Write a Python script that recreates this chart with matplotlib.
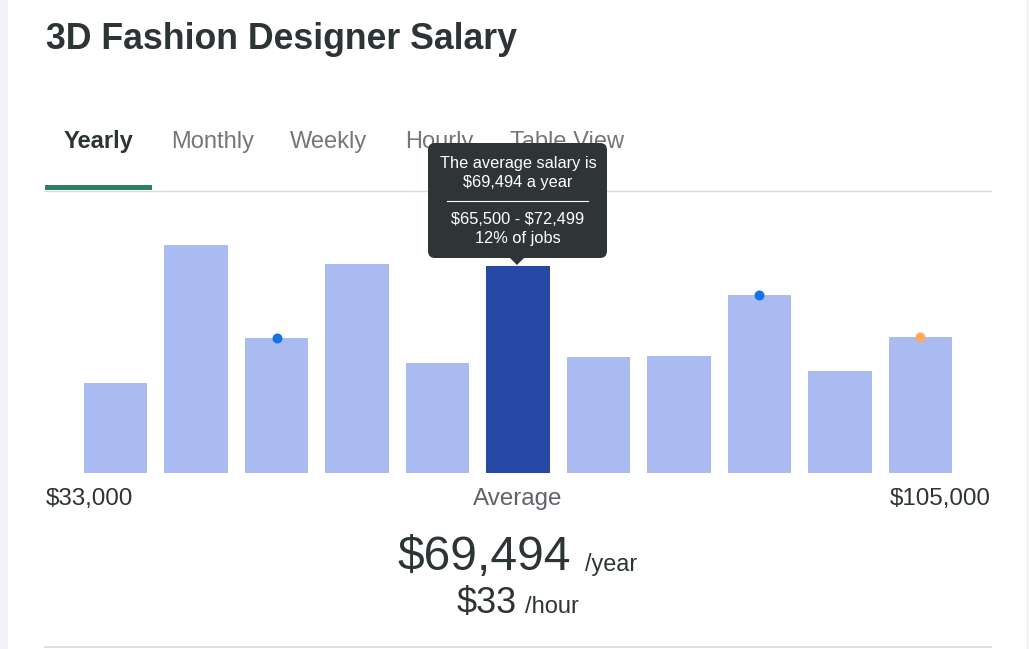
import matplotlib.pyplot as plt
from matplotlib.patches import Rectangle, FancyBboxPatch, Polygon

# Dados do gráfico (percentual de vagas por faixa salarial)
percent_jobs = [5.2, 13.2, 7.8, 12.1, 6.4, 12.0, 6.7, 6.8, 10.3, 5.9, 7.9]
destaque = 5            # faixa da média
pontos_azuis = [2, 8]
pontos_laranja = [10]
abas = ['Yearly', 'Monthly', 'Weekly', 'Hourly', 'Table View']
abas_x = [64, 171, 290, 405, 510]
faixa_min = r'\$33,000'
faixa_max = r'\$105,000'
media_anual = r'\$69,494'
media_hora = r'\$33'
tooltip_media = r'\$69,494 a year'
tooltip_faixa = r'\$65,500 - \$72,499'
tooltip_pct = '12% of jobs'

W, H = 1029, 649
plt.rcParams['font.family'] = ['Liberation Sans', 'DejaVu Sans']

fig = plt.figure(figsize=(W / 100, H / 100), dpi=100)
fig.patch.set_facecolor('white')

# camada de fundo em coordenadas de pixel
bg = fig.add_axes([0, 0, 1, 1])
bg.set_xlim(0, W)
bg.set_ylim(H, 0)
bg.axis('off')

bg.add_patch(Rectangle((0, 0), 8, H, color='#f3f4f7', lw=0))
bg.plot([1027, 1027], [0, H], color='#eeeeee', lw=1)

ESCURO = '#2d3436'
CINZA = '#767676'

bg.text(46, 49, '3D Fashion Designer Salary', fontsize=25.7, fontweight='bold',
        color=ESCURO, va='baseline', ha='left')

for i, (nome, x) in enumerate(zip(abas, abas_x)):
    bg.text(x, 148, nome, fontsize=17, color=ESCURO if i == 0 else CINZA,
            fontweight='bold' if i == 0 else 'normal', va='baseline', ha='left')

bg.plot([45, 991], [190.5, 190.5], color='#d9d9d9', lw=1)
bg.add_patch(Rectangle((45, 185), 107, 5, color='#2a7f67', lw=0))

# rótulos inferiores
bg.text(46, 505, faixa_min, fontsize=17.4, color=ESCURO, va='baseline', ha='left')
bg.text(518, 505, 'Average', fontsize=17.4, color='#5f6368', va='baseline', ha='center')
bg.text(991, 505, faixa_max, fontsize=17.4, color=ESCURO, va='baseline', ha='right')

bg.text(571, 570, media_anual, fontsize=34.6, color=ESCURO, va='baseline', ha='right')
bg.text(585, 571, '/year', fontsize=16.8, color=ESCURO, va='baseline', ha='left')
bg.text(517, 613, media_hora, fontsize=26, color=ESCURO, va='baseline', ha='right')
bg.text(525, 613, '/hour', fontsize=17, color=ESCURO, va='baseline', ha='left')

bg.plot([45, 991], [647, 647], color='#d9d9d9', lw=1.2)

# gráfico de barras
largura = 0.783
px_por_pct = 17.25
topo, base = 190, 473
ax = fig.add_axes([84 / W, (H - base) / H, 868 / W, (base - topo) / H])
ax.set_xlim(-largura / 2, len(percent_jobs) - 1 + largura / 2)
ax.set_ylim(0, (base - topo) / px_por_pct)
ax.axis('off')

cores = ['#2649a5' if i == destaque else '#aabbf2' for i in range(len(percent_jobs))]
ax.bar(range(len(percent_jobs)), percent_jobs, width=largura, color=cores, linewidth=0)

ax.scatter(pontos_azuis, [percent_jobs[i] for i in pontos_azuis], s=52,
           color='#1473e6', zorder=3, linewidths=0)
ax.scatter(pontos_laranja, [percent_jobs[i] for i in pontos_laranja], s=52,
           color='#ffa95c', zorder=3, linewidths=0)

# tooltip
bg.add_patch(FancyBboxPatch((431, 146), 173, 109, boxstyle='round,pad=3,rounding_size=7',
                            color='#2f3537', lw=0, zorder=5))
bg.add_patch(Polygon([[509, 257], [525, 257], [517, 265]], closed=True,
                     color='#2f3537', lw=0, zorder=5))
linhas = [('The average salary is', 168), (tooltip_media, 187),
          (tooltip_faixa, 224), (tooltip_pct, 243)]
for texto, y in linhas:
    bg.text(518, y, texto, fontsize=11.8, color='white',
            ha='center', va='baseline', zorder=6)
bg.plot([447, 588], [201, 201], color='white', lw=0.8, zorder=6)

fig.savefig('out.png', dpi=100)
